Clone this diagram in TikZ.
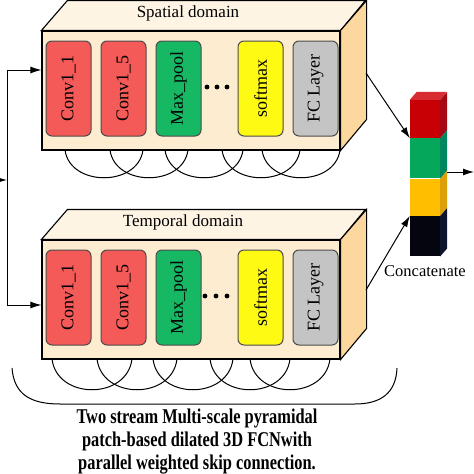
\documentclass[tikz,border=0pt]{standalone}
\usepackage{fontspec}
\setmainfont{Liberation Serif}
\newfontfamily\capfont[FakeStretch=0.78]{Liberation Serif}
\usetikzlibrary{arrows.meta, positioning}

\definecolor{boxfront}{RGB}{253,236,208}
\definecolor{boxtop}{RGB}{254,244,228}
\definecolor{boxside}{RGB}{252,216,158}
\definecolor{convred}{RGB}{243,90,88}
\definecolor{poolgreen}{RGB}{22,184,100}
\definecolor{softyellow}{RGB}{255,250,20}
\definecolor{fcgray}{RGB}{196,196,196}
\definecolor{catred}{RGB}{200,0,5}
\definecolor{catredtop}{RGB}{215,45,50}
\definecolor{catredside}{RGB}{165,10,20}
\definecolor{catgreen}{RGB}{5,168,90}
\definecolor{catgreenside}{RGB}{0,135,95}
\definecolor{catyellow}{RGB}{255,190,0}
\definecolor{catyellowside}{RGB}{220,160,10}
\definecolor{catblack}{RGB}{5,5,15}
\definecolor{catblackside}{RGB}{15,20,45}

\begin{document}
\begin{tikzpicture}[
    x=1pt, y=-1pt,
    streambox/.style={rectangle, draw, line width=1.1pt, fill=boxfront, minimum width=298pt, minimum height=119pt, inner sep=0pt},
    layer/.style={rectangle, draw=black!70, line width=1pt, rounded corners=6pt, minimum width=45pt, minimum height=95pt, inner sep=0pt, font=\fontsize{18}{18}\selectfont},
    conv/.style={layer, fill=convred},
    pool/.style={layer, fill=poolgreen},
    soft/.style={layer, fill=softyellow},
    fc/.style={layer, fill=fcgray},
    cat/.style={rectangle, minimum width=30pt, inner sep=0pt},
    arr/.style={-{Latex[length=11pt,width=7pt]}, line width=1pt},
    skip/.style={line width=1pt},
  ]
  \useasboundingbox (0,0) rectangle (474,474);

  % spatial stream
  \node[streambox] (spatial) at (191,90.5) {};
  \filldraw[fill=boxtop, line width=1.1pt] (spatial.north west) -- ++(26,-30) -- ++(298,0) -- (spatial.north east) -- cycle;
  \filldraw[fill=boxside, line width=1.1pt] (spatial.north east) -- ++(26,-30) -- ++(0,119) -- (spatial.south east) -- cycle;
  \node[font=\fontsize{17}{17}\selectfont] (slabel) at (188,13) {Spatial domain};
  \node[conv] (s1) at (68.5,88.5) {\rotatebox{90}{Conv1\_1}};
  \node[conv, right=9pt of s1] (s2) {\rotatebox{90}{Conv1\_5}};
  \node[pool, right=9pt of s2] (s3) {\rotatebox{90}{Max\_pool}};
  \node[soft, right=36pt of s3] (s4) {\rotatebox{90}{softmax}};
  \node[fc, right=9pt of s4] (s5) {\rotatebox{90}{FC Layer}};
  \foreach \dx in {-10,0,10}
    \fill (217+\dx,87) circle (2.4pt);
  \foreach \sx in {65,110,165,222,262}
    \draw[skip] (\sx,150) .. controls (\sx+5,187) and (\sx+73,187) .. (\sx+78,150);

  % temporal stream
  \node[streambox] (temporal) at (191,299.5) {};
  \filldraw[fill=boxtop, line width=1.1pt] (temporal.north west) -- ++(26,-30) -- ++(298,0) -- (temporal.north east) -- cycle;
  \filldraw[fill=boxside, line width=1.1pt] (temporal.north east) -- ++(26,-30) -- ++(0,119) -- (temporal.south east) -- cycle;
  \node[font=\fontsize{17}{17}\selectfont] (tlabel) at (183,222) {Temporal domain};
  \node[conv] (t1) at (68.5,297.5) {\rotatebox{90}{Conv1\_1}};
  \node[conv, right=9pt of t1] (t2) {\rotatebox{90}{Conv1\_5}};
  \node[pool, right=9pt of t2] (t3) {\rotatebox{90}{Max\_pool}};
  \node[soft, right=36pt of t3] (t4) {\rotatebox{90}{softmax}};
  \node[fc, right=9pt of t4] (t5) {\rotatebox{90}{FC Layer}};
  \foreach \dx in {-11,0,11}
    \fill (216+\dx,296) circle (2.4pt);
  \foreach \sx in {52,97,153,210,250}
    \draw[skip] (\sx,359) .. controls (\sx+5,400) and (\sx+75,400) .. (\sx+80,359);

  % outer skip
  \draw[skip] (12,368) .. controls (14,394) and (30,404) .. (60,404) -- (355,404) .. controls (382,404) and (396,392) .. (397,368);

  % concatenation block
  \node[cat, fill=catred, minimum height=38pt] (cred) at (425,119) {};
  \node[cat, fill=catgreen, minimum height=40pt, below=0pt of cred] (cgreen) {};
  \node[cat, fill=catyellow, minimum height=37pt, below=0pt of cgreen] (cyellow) {};
  \node[cat, fill=catblack, minimum height=40pt, below=0pt of cyellow] (cblack) {};
  \fill[catredtop] (cred.north west) -- ++(7,-8) -- ++(30,0) -- (cred.north east) -- cycle;
  \foreach \n/\col in {cred/catredside, cgreen/catgreenside, cyellow/catyellowside, cblack/catblackside}
    \fill[\col] (\n.north east) -- ++(7,-8) -- ([shift={(7,-8)}]\n.south east) -- (\n.south east) -- cycle;
  \node[font=\fontsize{16.5}{16.5}\selectfont, below=6pt of cblack] (clabel) {Concatenate};

  % connections
  \coordinate (inp) at (-6,180);
  \coordinate (split) at (7,180);
  \coordinate (sright) at (366,73);
  \coordinate (tright) at (366,290);
  \coordinate (cout) at (447,172);
  \coordinate (outp) at (474,172);
  \draw[arr] (inp) -- (split);
  \draw[arr] (split) |- ([yshift=20.5pt]spatial.west);
  \draw[arr] (split) |- ([yshift=-5.5pt]temporal.west);
  \draw[arr] (sright) -- (cred.south west);
  \draw[arr] (tright) -- (cyellow.south west);
  \draw[arr] (cout) -- (outp);

  % caption
  \node[font=\capfont\bfseries\fontsize{21}{23}\selectfont, align=center] (caption) at (197,442)
    {Two stream Multi-scale pyramidal\\patch-based dilated 3D FCNwith\\parallel weighted skip connection.};
\end{tikzpicture}
\end{document}
